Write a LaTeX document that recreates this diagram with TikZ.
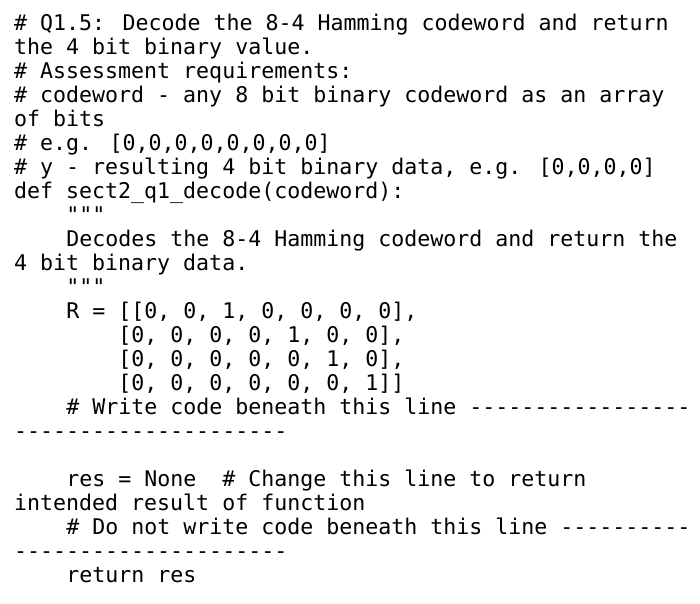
\documentclass[tikz,border=0pt]{standalone}
\usepackage{fontspec}
\newfontfamily\codefont{DejaVu Sans Mono}[Ligatures=NoCommon]
\newcommand{\qq}{\symbol{34}\symbol{34}\symbol{34}}
\newcommand{\codeline}[3]{\node[codetxt] (l#1) at ({14+#2*13.02},{603-31-(#1-1)*23.96}) {#3};}
\begin{document}
\begin{tikzpicture}[x=1pt,y=1pt,
  codetxt/.style={anchor=base west,inner sep=0pt,font=\codefont\fontsize{21.6}{24}\selectfont}]
\useasboundingbox (0,0) rectangle (700,603);
\codeline{1}{0}{\# Q1.5: Decode the 8-4 Hamming codeword and return}
\codeline{2}{0}{the 4 bit binary value.}
\codeline{3}{0}{\# Assessment requirements:}
\codeline{4}{0}{\# codeword - any 8 bit binary codeword as an array}
\codeline{5}{0}{of bits}
\codeline{6}{0}{\# e.g. [0,0,0,0,0,0,0,0]}
\codeline{7}{0}{\# y - resulting 4 bit binary data, e.g. [0,0,0,0]}
\codeline{8}{0}{def sect2\_q1\_decode(codeword):}
\codeline{9}{4}{\qq}
\codeline{10}{4}{Decodes the 8-4 Hamming codeword and return the}
\codeline{11}{0}{4 bit binary data.}
\codeline{12}{4}{\qq}
\codeline{13}{4}{R = [[0, 0, 1, 0, 0, 0, 0],}
\codeline{14}{8}{[0, 0, 0, 0, 1, 0, 0],}
\codeline{15}{8}{[0, 0, 0, 0, 0, 1, 0],}
\codeline{16}{8}{[0, 0, 0, 0, 0, 0, 1]]}
\codeline{17}{4}{\# Write code beneath this line -{}-{}-{}-{}-{}-{}-{}-{}-{}-{}-{}-{}-{}-{}-{}-{}-}
\codeline{18}{0}{-{}-{}-{}-{}-{}-{}-{}-{}-{}-{}-{}-{}-{}-{}-{}-{}-{}-{}-{}-{}-}
\codeline{20}{4}{res = None\ \ \# Change this line to return}
\codeline{21}{0}{intended result of function}
\codeline{22}{4}{\# Do not write code beneath this line -{}-{}-{}-{}-{}-{}-{}-{}-{}-}
\codeline{23}{0}{-{}-{}-{}-{}-{}-{}-{}-{}-{}-{}-{}-{}-{}-{}-{}-{}-{}-{}-{}-{}-}
\codeline{24}{4}{return res}
\end{tikzpicture}
\end{document}
